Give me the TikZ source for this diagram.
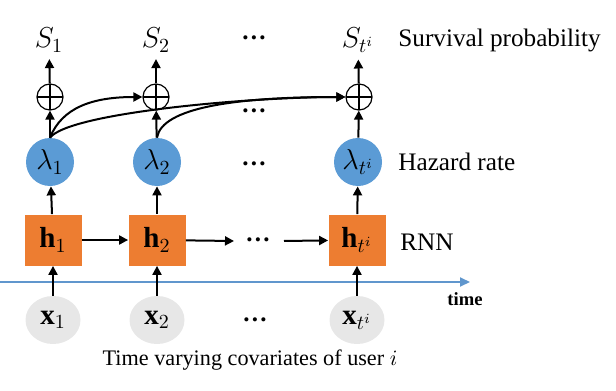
\documentclass[tikz,border=0pt]{standalone}
\usepackage{fontspec}
\setmainfont{Liberation Serif}
\usetikzlibrary{
    shapes.geometric,
    arrows.meta,
    positioning
}
\usepackage{amsmath}
\usepackage{xcolor}
\definecolor{hazardblue}{RGB}{91,155,213}
\definecolor{rnnorange}{RGB}{237,125,49}
\definecolor{covgray}{RGB}{231,231,231}
\definecolor{timeblue}{RGB}{96,150,205}
\tikzset{
    % Sum nodes
    sumnode/.style={
        circle,
        draw=black,
        line width=0.6pt,
        minimum size=13pt,
        inner sep=0pt,
        path picture={
            \draw[line width=0.6pt]
                (path picture bounding box.north) -- (path picture bounding box.south)
                (path picture bounding box.west) -- (path picture bounding box.east);
        }
    },
    % Math labels
    mathlbl/.style={
        font=\fontsize{14.5}{17}\selectfont
    },
    % Hazard rates
    hazard/.style={
        circle,
        fill=hazardblue,
        minimum size=24pt,
        inner sep=0pt,
        mathlbl
    },
    % RNN cells
    hidden/.style={
        rectangle,
        fill=rnnorange,
        minimum width=28.5pt,
        minimum height=25.5pt,
        inner sep=0pt,
        mathlbl
    },
    % Covariates
    covar/.style={
        ellipse,
        fill=covgray,
        minimum width=27.5pt,
        minimum height=24pt,
        inner sep=0pt,
        mathlbl
    },
    % Arrows
    arrow/.style={
        -{Triangle[length=4.5pt,width=4.5pt]},
        line width=1pt,
        draw=black
    },
    timearrow/.style={
        -{Triangle[length=5pt,width=4.5pt]},
        line width=1pt,
        draw=timeblue
    },
    % Labels
    sidelabel/.style={
        anchor=west,
        inner sep=0pt
    },
    dotsnode/.style={
        inner sep=1pt
    }
}

\begin{document}
\begin{tikzpicture}[
    x=0.5pt, y=-0.5pt,
    font=\fontsize{12.6}{15}\selectfont
]
    \useasboundingbox (0,0) rectangle (616,391);

    % Time axis
    \coordinate (tstart) at (0,282);
    \coordinate (tend) at (470,282);
    \draw[timearrow] (tstart) -- (tend);
    \node[font=\fontsize{9.3}{11}\selectfont\bfseries] (timelbl) at (465,299) {time};

    % Survival probabilities
    \node[mathlbl] (S1) at (49,40) {$S_1$};
    \node[mathlbl] (S2) at (156,40) {$S_2$};
    \node[dotsnode] (dotsS) at (254,38) {\textbf{…}};
    \node[mathlbl] (S3) at (358,40) {$S_{t^i}$};
    \node[sidelabel] (survlbl) at (398,40) {Survival probability};

    % Sum nodes
    \node[sumnode] (plus1) at (50,97) {};
    \node[sumnode] (plus2) at (156,97) {};
    \node[dotsnode] (dotsP) at (254,111) {\textbf{…}};
    \node[sumnode] (plus3) at (359,97) {};

    % Hazard rates
    \node[hazard] (lam1) at (50,162) {$\lambda_1$};
    \node[hazard] (lam2) at (157,162) {$\lambda_2$};
    \node[dotsnode] (dotsL) at (254,164) {\textbf{…}};
    \node[hazard] (lam3) at (358,162) {$\lambda_{t^i}$};
    \node[sidelabel] (hazlbl) at (398,162) {Hazard rate};

    % RNN cells
    \node[hidden] (h1) at (53,240) {$\mathbf{h}_1$};
    \node[hidden] (h2) at (157,240) {$\mathbf{h}_2$};
    \node[dotsnode] (dotsH) at (258,240) {\textbf{…}};
    \node[hidden] (h3) at (357,240) {$\mathbf{h}_{t^i}$};
    \node[sidelabel] (rnnlbl) at (400,242) {RNN};
    \coordinate (hgapL) at (234,241);
    \coordinate (hgapR) at (284,241);

    % Covariates
    \node[covar] (x1) at (53,320) {$\mathbf{x}_1$};
    \node[covar] (x2) at (157,320) {$\mathbf{x}_2$};
    \node[dotsnode] (dotsX) at (255,320) {\textbf{…}};
    \node[covar] (x3) at (357,320) {$\mathbf{x}_{t^i}$};
    \node[font=\fontsize{11.1}{13}\selectfont] (covlbl) at (250,360) {Time varying covariates of user $i$};

    % Arrows - inputs
    \draw[arrow] (x1) -- (h1);
    \draw[arrow] (x2) -- (h2);
    \draw[arrow] (x3) -- (h3);

    % Arrows - recurrence
    \draw[arrow] (h1) -- (h2);
    \draw[arrow] (h2) -- (hgapL);
    \draw[arrow] (hgapR) -- (h3);

    % Arrows - hazards
    \draw[arrow] (h1) -- (lam1);
    \draw[arrow] (h2) -- (lam2);
    \draw[arrow] (h3) -- (lam3);
    \draw[arrow] (lam1) -- (plus1);
    \draw[arrow] (lam2) -- (plus2);
    \draw[arrow] (lam3) -- (plus3);

    % Cumulative sums
    \draw[arrow] (lam1.north) .. controls +(12,-30) and +(-50,0) .. (plus2.west);
    \draw[arrow] (lam1.north) .. controls +(20,-25) and +(-95,0) .. (plus3.west);
    \draw[arrow] (lam2.north) .. controls +(5,-30) and +(-110,0) .. (plus3.west);

    % Outputs
    \draw[arrow] (plus1) -- (S1);
    \draw[arrow] (plus2) -- (S2);
    \draw[arrow] (plus3) -- (S3);

\end{tikzpicture}
\end{document}
